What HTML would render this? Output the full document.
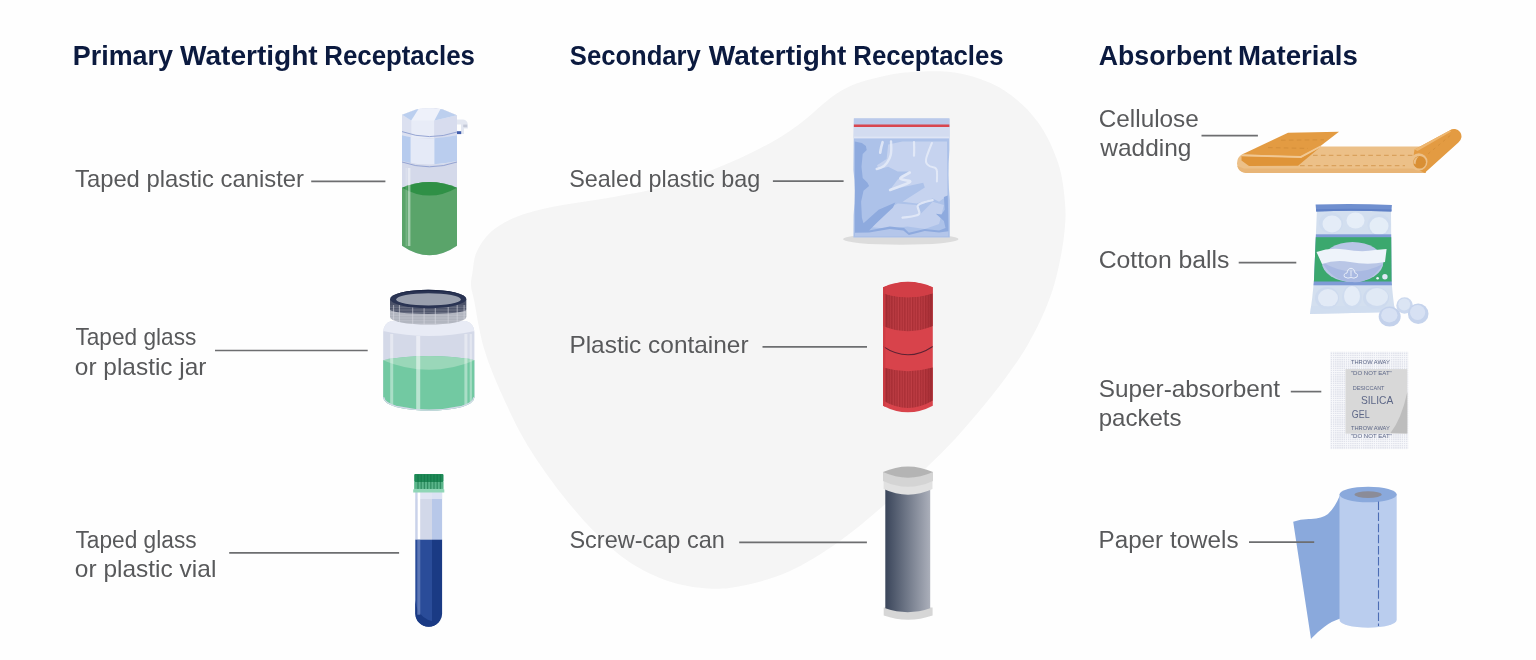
<!DOCTYPE html>
<html><head><meta charset="utf-8"><title>Receptacles</title>
<style>
html,body{margin:0;padding:0}
body{width:1536px;height:660px;overflow:hidden;background:#fefefe}
svg{display:block}
text{font-family:"Liberation Sans",sans-serif}
.h{font-weight:bold;font-size:27.6px;fill:#0b1a3f}
.l{font-size:23.2px;fill:#58595b}
.ln{stroke:#6d6e70;stroke-width:1.7}
</style></head><body>
<svg width="1536" height="660" viewBox="0 0 1536 660">
<rect width="1536" height="660" fill="#fefefe"/>
<path d="M471.0,285.0 C470.8,280.4 471.6,278.2 472.5,272.7 C473.4,267.2 473.5,258.8 476.6,252.0 C479.7,245.2 484.6,237.6 491.0,231.8 C497.4,226.1 504.8,221.6 515.0,217.5 C525.2,213.4 535.6,210.4 552.0,207.0 C568.4,203.6 595.1,200.4 613.6,197.0 C632.1,193.6 645.7,191.6 662.7,186.8 C679.7,182.0 699.4,174.9 715.8,168.4 C732.1,161.9 747.2,155.2 760.8,148.0 C774.4,140.8 784.2,135.0 797.6,125.4 C811.0,115.9 826.9,98.9 841.0,90.7 C855.1,82.5 868.4,79.6 882.0,76.4 C895.6,73.2 909.2,71.8 922.8,71.5 C936.4,71.2 950.1,71.1 963.7,74.3 C977.4,77.5 992.4,82.8 1004.7,90.7 C1017.0,98.6 1028.5,109.5 1037.4,121.4 C1046.3,133.3 1053.3,148.7 1057.9,162.3 C1062.5,175.9 1064.0,190.7 1065.0,203.0 C1066.0,215.3 1065.4,223.8 1064.0,236.0 C1062.6,248.2 1059.5,264.2 1056.4,276.4 C1053.3,288.6 1050.3,297.5 1045.5,309.0 C1040.7,320.5 1034.0,334.0 1027.3,345.5 C1020.6,357.0 1014.0,366.5 1005.5,378.0 C997.0,389.5 987.3,401.8 976.4,414.5 C965.5,427.2 955.1,439.6 940.0,454.5 C924.9,469.4 903.0,489.0 886.0,503.6 C869.0,518.2 854.0,531.1 837.8,542.4 C821.6,553.7 805.2,564.1 789.0,571.4 C772.8,578.7 754.5,583.2 740.8,586.0 C727.1,588.8 719.1,589.2 707.0,588.4 C694.9,587.6 681.0,585.5 668.0,581.0 C655.0,576.5 641.1,569.8 629.0,561.7 C616.9,553.7 606.6,544.0 595.4,532.7 C584.1,521.4 572.8,508.4 561.5,493.9 C550.2,479.3 537.4,461.5 527.6,445.4 C517.9,429.2 510.3,413.1 503.0,397.0 C495.7,380.9 488.8,364.7 484.0,348.5 C479.2,332.3 476.2,310.6 474.0,300.0 C471.8,289.4 471.2,289.6 471.0,285.0Z" fill="#f5f5f5"/>
<g id="text" opacity="0.999">
<text class="h" transform="translate(72.79,64.60) scale(0.9757,1)">Primary</text>
<text class="h" transform="translate(180.00,64.60) scale(1.0170,1)">Watertight</text>
<text class="h" transform="translate(324.26,64.60) scale(0.9359,1)">Receptacles</text>
<text class="h" transform="translate(569.80,64.60) scale(0.9291,1)">Secondary</text>
<text class="h" transform="translate(708.80,64.60) scale(1.0163,1)">Watertight</text>
<text class="h" transform="translate(853.37,64.60) scale(0.9327,1)">Receptacles</text>
<text class="h" transform="translate(1098.77,64.60) scale(0.9675,1)">Absorbent</text>
<text class="h" transform="translate(1238.05,64.60) scale(1.0013,1)">Materials</text>
<text class="l" transform="translate(74.99,186.50) scale(1.0270,1)">Taped plastic canister</text>
<text class="l" transform="translate(75.41,345.40) scale(0.9771,1)">Taped glass</text>
<text class="l" transform="translate(74.85,374.90) scale(1.0534,1)">or plastic jar</text>
<text class="l" transform="translate(75.41,547.50) scale(0.9796,1)">Taped glass</text>
<text class="l" transform="translate(74.84,576.80) scale(1.0555,1)">or plastic vial</text>
<text class="l" transform="translate(569.19,186.70) scale(1.0086,1)">Sealed plastic bag</text>
<text class="l" transform="translate(569.39,352.70) scale(1.0528,1)">Plastic container</text>
<text class="l" transform="translate(569.39,547.90) scale(1.0129,1)">Screw-cap can</text>
<text class="l" transform="translate(1098.79,126.80) scale(1.0484,1)">Cellulose</text>
<text class="l" transform="translate(1100.30,155.60) scale(1.0553,1)">wadding</text>
<text class="l" transform="translate(1098.66,268.20) scale(1.0680,1)">Cotton balls</text>
<text class="l" transform="translate(1098.75,396.70) scale(1.0496,1)">Super-absorbent</text>
<text class="l" transform="translate(1098.64,425.90) scale(1.0374,1)">packets</text>
<text class="l" transform="translate(1098.51,547.80) scale(1.0446,1)">Paper towels</text>
</g>
<!-- 01_canister.svg -->
<g id="canister">
<defs><clipPath id="canClip"><path d="M402,114.7 L416.5,109.3 Q429.5,107.3 442.5,109.3 L457,115.2 L457,245.7 Q429.5,264.7 402,245.7 Z"/></clipPath></defs>
<!-- tab -->
<path d="M456.5,119.5 L463,119.5 Q467.8,120 467.8,125 L467.8,128.5 L464,128.5 L464,134 L461,134 L461,124.5 L456.5,124.5 Z" fill="#e3e7f1"/>
<rect x="463.2" y="124.6" width="4" height="2.6" fill="#c4c9d8"/>
<rect x="456.6" y="131.2" width="4.6" height="2.9" fill="#3f5cab"/>
<g clip-path="url(#canClip)">
<!-- glass -->
<rect x="400" y="100" width="60" height="170" fill="#d4d9ea"/>
<!-- cap side facets -->
<rect x="402" y="108" width="9.2" height="30" fill="#dbe0f0"/>
<rect x="411.2" y="108" width="23.2" height="30" fill="#e8ecf7"/>
<rect x="434.4" y="108" width="23" height="30" fill="#d7dcee"/>
<!-- cap top -->
<path d="M402,114.7 L416.5,109.3 Q429.5,107.3 442.5,109.3 L457,115.2 L434.4,120.6 L411.2,120.6 Z" fill="#eef1fa"/>
<path d="M402,114.7 L416.5,109.3 L418.5,109 L411.2,120.6 Z" fill="#bbcfef"/>
<path d="M440.5,109 L442.5,109.3 L457,115.2 L434.4,120.6 Z" fill="#bccfee"/>
<!-- tape -->
<path d="M402,135.2 Q429.5,141.6 457,135.2 L457,161 Q429.5,168 402,161 Z" fill="#e5eaf7"/>
<path d="M402,135.2 Q406,136.2 410.6,136.9 L410.6,162.9 Q406,162.1 402,161 Z" fill="#b6cbee"/>
<path d="M434.4,138.2 Q446,137.3 457,135.2 L457,161 Q446,163.3 434.4,164.3 Z" fill="#bacdee"/>
<!-- ring lines -->
<path d="M402,131.6 Q429.5,141.4 457,132" fill="none" stroke="#8c9dcf" stroke-width="0.9"/>
<path d="M402,162 Q429.5,171.6 457,162" fill="none" stroke="#8c9dcf" stroke-width="0.9"/>
<!-- liquid -->
<path d="M402,187.7 Q429.5,176.3 457,187.7 L457,270 L402,270 Z" fill="#5aa46a"/>
<path d="M402,187.7 Q429.5,176.3 457,187.7 Q429.5,203.5 402,187.7 Z" fill="#2f9046"/>
<!-- highlights -->
<rect x="407.8" y="168" width="2.6" height="78" fill="#fff" opacity="0.45"/>
<rect x="405.6" y="168" width="1.2" height="78" fill="#fff" opacity="0.2"/>
</g>
</g>
<!-- 02_jar.svg -->
<g id="jar">
<defs><clipPath id="jarClip"><path d="M391,321 L466,321 Q474.4,324 474.4,332 L474.4,397.3 Q474.4,403 462,407 Q429,414.5 396,407 Q383.2,403 383.2,397.3 L383.2,332 Q383.2,324 391,321 Z"/></clipPath>
<pattern id="lidTex" x="0" y="0" width="4" height="1.6" patternUnits="userSpaceOnUse"><rect width="4" height="0.6" fill="#fff" opacity="0.22"/></pattern>
<clipPath id="lidClip"><path d="M390,299 L466.4,299 L466.4,317.1 A38.2,7.5 0 0 1 390,317.1 Z"/></clipPath></defs>
<g clip-path="url(#jarClip)">
<rect x="380" y="315" width="100" height="100" fill="#d4d9e8"/>
<path d="M383,321 L475,321 L475,331 Q429,341 383,331 Z" fill="#e8ebf5"/>
<!-- liquid -->
<path d="M383,360.2 Q429,352 475,360.2 L475,415 L383,415 Z" fill="#72c9a2"/>
<path d="M383,360.2 Q429,352 475,360.2 Q429,379.5 383,360.2 Z" fill="#9ad7b9"/>
<!-- highlights -->
<rect x="390.2" y="334" width="3" height="80" fill="#fff" opacity="0.4"/>
<rect x="416.2" y="336" width="4" height="80" fill="#fff" opacity="0.5"/>
<rect x="464.4" y="334" width="3" height="80" fill="#fff" opacity="0.4"/>
<rect x="469.7" y="334" width="2.2" height="80" fill="#fff" opacity="0.35"/>
<path d="M383.2,397.3 Q383.2,403 396,407 Q429,414.5 462,407 Q474.4,403 474.4,397.3" fill="none" stroke="#d4d9e8" stroke-width="2.5"/>
</g>
<!-- lid -->
<g clip-path="url(#lidClip)">
<rect x="389" y="298" width="79" height="30" fill="#adb1bc"/>
<path d="M390,299 L466.4,299 L466.4,309.7 A38.2,4.2 0 0 1 390,309.7 Z" fill="#4b5269"/>
<rect x="389" y="305" width="79" height="22" fill="url(#lidTex)"/>
<g stroke="#d9dbe2" stroke-width="0.8" opacity="0.75">
<line x1="393.6" y1="305" x2="393.6" y2="330"/><line x1="399.4" y1="305" x2="399.4" y2="330"/><line x1="412.7" y1="305" x2="412.7" y2="330"/><line x1="424.1" y1="305" x2="424.1" y2="330"/><line x1="435.3" y1="305" x2="435.3" y2="330"/><line x1="448.2" y1="305" x2="448.2" y2="330"/><line x1="457.2" y1="305" x2="457.2" y2="330"/><line x1="464.1" y1="305" x2="464.1" y2="330"/>
</g>
</g>
<ellipse cx="428.2" cy="299" rx="38.2" ry="9.3" fill="#2a3453"/>
<path d="M390,299 A38.2,9.3 0 0 1 466.4,299 A38.2,8 0 0 0 390,299 Z" fill="#1c2645"/>
<ellipse cx="428.5" cy="299.4" rx="32.3" ry="6.1" fill="#9aa0ae"/>
</g>
<!-- 03_vial.svg -->
<g id="vial">
<defs><clipPath id="vialClip"><path d="M415.3,490 L442.1,490 L442.1,613.4 A13.4,13.4 0 0 1 415.3,613.4 Z"/></clipPath></defs>
<g clip-path="url(#vialClip)">
<rect x="415" y="490" width="17" height="50" fill="#d2d8e9"/>
<rect x="432" y="490" width="11" height="50" fill="#b8c8e9"/>
<rect x="415" y="490" width="28" height="9" fill="#e3e8f5" opacity="0.8"/>
<rect x="415.3" y="490" width="2.4" height="50" fill="#c9d2ea"/>
<rect x="417.7" y="490" width="2.5" height="50" fill="#ffffff"/>
<rect x="415" y="539.7" width="17" height="90" fill="#2a4c99"/>
<rect x="432" y="539.7" width="11" height="90" fill="#1a3a84"/>
<path d="M415,600 Q418,622 440,622 L443,630 L415,630 Z" fill="#1a3a84"/>
<rect x="417.3" y="539.7" width="3" height="75" fill="#6d86c0" opacity="0.75"/>
</g>
<!-- cap -->
<path d="M414.3,475 Q414.3,473.9 415.5,473.9 L442.2,473.9 Q443.4,473.9 443.4,475 L443.4,488.9 L444.3,489.5 L444.3,492.4 L413.2,492.4 L413.2,489.5 L414.3,488.9 Z" fill="#8fd6b6"/>
<rect x="414.3" y="473.9" width="29.1" height="8.2" rx="1" fill="#1f8a57"/>
<rect x="414.3" y="482" width="29.1" height="6.9" fill="#5ab58a"/>
<g stroke="#0f6e42" stroke-width="1.3" opacity="0.55">
<line x1="418" y1="474.5" x2="418" y2="489"/><line x1="421.2" y1="474.5" x2="421.2" y2="489"/><line x1="424.4" y1="474.5" x2="424.4" y2="489"/><line x1="427.6" y1="474.5" x2="427.6" y2="489"/><line x1="430.8" y1="474.5" x2="430.8" y2="489"/><line x1="434" y1="474.5" x2="434" y2="489"/><line x1="437.2" y1="474.5" x2="437.2" y2="489"/><line x1="440.4" y1="474.5" x2="440.4" y2="489"/>
</g>
</g>
<!-- 04_bag.svg -->
<g id="bag">
<defs><clipPath id="bagClip"><path d="M853.9,118.5 L949.4,118.5 L949.4,150 Q947.5,175 949.8,200 L949.8,237.4 L853.4,237.6 L853.6,215 Q856,190 853.4,170 Z"/></clipPath></defs>
<ellipse cx="900.8" cy="239.2" rx="57.6" ry="5.6" fill="#dcdcdc"/>
<g clip-path="url(#bagClip)">
<rect x="850" y="115" width="104" height="126" fill="#adc2e9"/>
<path d="M902.5,141.4 L947.0,141.4 L947.4,195.5 L939.1,201.8 L932.7,198.6 L916.8,203.4 L902.5,201.8 L924.8,187.5 L923.2,182.7 L889.8,189.9 L897.7,179.5 L908.9,171.6 L897.7,171.6 L888.2,166.8 L878.6,169.2 L877.0,165.2 L886.6,158.9 L888.2,144.5Z" fill="#c6d3ef"/>
<path d="M886.6,209.8 L897.7,203.4 L916.8,205.0 L920.0,214.5 L932.7,201.8 L943.9,205.0 L939.1,224.1 L924.8,228.9 L907.3,226.5 L889.8,228.9 L872.3,227.3Z" fill="#c2d0ee"/>
<path d="M854.8,141.4 L861.9,143.0 L865.9,146.1 L866.7,150.1 L862.7,154.1 L861.5,166.8 L862.7,178.0 L867.5,182.7 L869.1,185.9 L863.5,190.7 L861.1,201.8 L861.9,217.7 L863.5,223.3 L878.6,209.8 L895.3,202.6 L893.0,207.4 L875.5,224.1 L869.1,230.5 L889.8,226.5 L904.1,228.1 L908.9,232.8 L924.8,228.9 L939.1,230.5 L945.5,228.1 L943.9,220.9 L935.9,213.8 L941.5,214.5 L944.7,209.8 L943.9,197.0 L947.8,195.5 L948.6,236.8 L854.8,236.8Z" fill="#8eaade"/>
<path d="M854.8,236.8 L854.8,232.8 L869.1,232.4 L889.8,228.9 L903.3,230.5 L908.9,234.9 L924.8,230.9 L939.1,232.4 L948.6,231.2 L948.6,236.8Z" fill="#b4c6ea"/>
<g fill="none" stroke="#e6ecf8" stroke-linecap="round" stroke-linejoin="round" opacity="0.85">
<path d="M882.6,142.2 Q881.0,147.7 880.6,150.3 L880.2,152.8" stroke-width="2.6"/>
<path d="M891.0,141.4 Q891.7,150.9 890.7,154.9 Q889.8,158.9 887.0,162.8 Q884.2,166.8 880.5,167.9 L876.7,169.0" stroke-width="2.4"/>
<path d="M914.0,142.2 Q914.3,149.3 914.1,152.5 L914.0,155.7" stroke-width="2.2"/>
<path d="M931.9,143.0 Q928.0,152.5 926.5,157.3 Q925.1,162.0 927.3,164.4 Q929.5,166.8 933.1,167.2 Q936.7,167.6 936.9,171.2 Q937.2,174.8 937.0,178.1 L936.9,181.5" stroke-width="2.0"/>
<path d="M909.8,172.5 Q904.1,175.6 901.4,177.2 Q898.7,178.9 902.2,179.6 Q905.7,180.3 909.0,180.9 Q912.4,181.5 906.6,183.7 Q900.9,185.9 895.5,188.0 L890.1,190.0" stroke-width="2.6"/>
<path d="M932.7,200.2 Q924.8,201.8 920.8,203.6 Q916.8,205.3 917.8,207.5 Q918.7,209.8 919.4,212.2 Q920.0,214.5 916.0,215.5 Q912.0,216.5 907.3,217.1 L902.5,217.7" stroke-width="2.2"/>
</g>
<!-- top band -->
<rect x="850" y="115" width="104" height="9.6" fill="#bac9ea"/>
<rect x="850" y="127" width="104" height="10.6" fill="#d3dcf0"/>
<rect x="850" y="136.6" width="104" height="1.8" fill="#dfe5f4"/>
<rect x="850" y="124.5" width="104" height="2.5" fill="#d9464f"/>
</g>
</g>
<!-- 05_container.svg -->
<g id="container">
<defs><clipPath id="conClip"><path d="M883,287.3 Q907.9,276.3 932.8,287.3 L932.8,405.7 Q907.9,418.9 883,405.7 Z"/></clipPath>
<pattern id="ribs" x="883.4" y="0" width="2.6" height="10" patternUnits="userSpaceOnUse"><rect width="2.6" height="10" fill="#aa2f36"/><rect x="1.4" width="1.2" height="10" fill="#bf3e45"/></pattern>
<linearGradient id="ribShade" x1="0" x2="1"><stop offset="0" stop-color="#8f2229" stop-opacity="0.55"/><stop offset="0.14" stop-color="#8f2229" stop-opacity="0.15"/><stop offset="0.3" stop-color="#8f2229" stop-opacity="0"/><stop offset="0.72" stop-color="#8f2229" stop-opacity="0"/><stop offset="0.88" stop-color="#8f2229" stop-opacity="0.2"/><stop offset="1" stop-color="#8f2229" stop-opacity="0.6"/></linearGradient></defs>
<g clip-path="url(#conClip)">
<rect x="880" y="275" width="56" height="145" fill="#d8434b"/>
<!-- upper ribbed -->
<path d="M883,293.2 Q907.9,301.2 932.8,293.2 L932.8,326.1 Q907.9,336.5 883,326.1 Z" fill="url(#ribs)"/>
<path d="M883,293.2 Q907.9,301.2 932.8,293.2 L932.8,326.1 Q907.9,336.5 883,326.1 Z" fill="url(#ribShade)"/>
<!-- top face -->
<path d="M883,287.3 Q907.9,276.3 932.8,287.3 L932.8,293.2 Q907.9,301.2 883,293.2 Z" fill="#d23e46"/>
<!-- lower ribbed -->
<path d="M883,367.6 Q907.9,374.8 932.8,367.6 L932.8,400.6 Q907.9,415.4 883,400.6 Z" fill="url(#ribs)"/>
<path d="M883,367.6 Q907.9,374.8 932.8,367.6 L932.8,400.6 Q907.9,415.4 883,400.6 Z" fill="url(#ribShade)"/>
<!-- seam -->
<path d="M883,346.4 Q908,363.2 932.8,346.4" fill="none" stroke="#5c2233" stroke-width="1.1"/>
<rect x="883" y="287" width="2.3" height="125" fill="#cf3c44" opacity="0.85"/>
</g>
</g>
<!-- 06_can.svg -->
<g id="can">
<defs><linearGradient id="canG" x1="0" x2="1" y1="0" y2="0"><stop offset="0" stop-color="#3a455a"/><stop offset="0.5" stop-color="#727a8a"/><stop offset="1" stop-color="#abafba"/></linearGradient></defs>
<!-- bottom rim -->
<path d="M883.7,607.5 L932.6,607.5 L932.6,615.5 Q908,624 883.7,615.5 Z" fill="#d6d6d6"/>
<!-- body -->
<path d="M885.3,486 L930.2,486 L930.2,608.3 Q907.8,616 885.3,608.3 Z" fill="url(#canG)"/>
<!-- cap lower lip -->
<path d="M883.6,478 L932.5,478 L932.5,489.1 Q908,500.5 883.6,489.1 Z" fill="#e1e1e1"/>
<!-- cap side -->
<path d="M883,472 L933,472 L933,481 Q908,492.5 883,481 Z" fill="#d4d4d4"/>
<!-- cap top -->
<path d="M883,472 Q908,460.8 933,472 Q908,483.4 883,472 Z" fill="#b4b4b4"/>
</g>
<!-- 07_wadding.svg -->
<g id="wadding">
<!-- base sheet -->
<path d="M1318,146.4 L1426,146.4 L1426,173 L1246,173 Q1237,172 1237,163.5 Q1237,157 1242.5,154 Z" fill="#ecc088"/>
<path d="M1244,168.6 L1426,168.6 L1426,173 L1246,173 Q1239,172.4 1237.4,166 Z" fill="#e8b577"/>
<!-- roll tube (diagonal) -->
<path d="M1414.5,149.5 L1449.6,130.4 A7.4,7.4 0 0 1 1458.4,142.5 L1424.6,172.9 L1412,166 Z" fill="#e39b42"/>
<path d="M1414.5,149.5 L1449.6,130.4 L1451.2,131.6 L1417.5,151 Z" fill="#eeb66f"/>
<!-- roll end -->
<circle cx="1418.9" cy="161.8" r="8.6" fill="#ecc088"/>
<circle cx="1419.6" cy="162.3" r="6.3" fill="#d98f34"/>
<path d="M1413.5,163 Q1413.6,157.5 1419,156.5 Q1415.5,158.8 1415.6,164.5 Z" fill="#ecc088"/>
<!-- dashes on base -->
<line x1="1313" y1="155.4" x2="1413" y2="155.4" stroke="#d9a15c" stroke-width="1.1" stroke-dasharray="4.6,3.3"/>
<line x1="1300" y1="165.6" x2="1405" y2="165.6" stroke="#d9a15c" stroke-width="1.1" stroke-dasharray="4.6,3.3"/>
<!-- underside of flap -->
<path d="M1241.5,156 L1301.5,157.6 L1321,146.6 L1298,165.7 L1249,166 L1241.5,160.5 Z" fill="#df9438"/>
<!-- flap top -->
<path d="M1242.5,154.2 L1288,132.8 L1339,131.8 L1320.5,146 L1300.5,156.4 Z" fill="#e39b42"/>
<path d="M1242,154.4 L1300.5,156 L1320.5,145.6 L1321.3,146.9 L1301,157.9 L1241.6,156.2 Z" fill="#f1c893"/>
<line x1="1281" y1="140.2" x2="1324" y2="139.8" stroke="#d48e39" stroke-width="1" stroke-dasharray="4.6,3.3"/>
<line x1="1268" y1="147.6" x2="1308" y2="148.4" stroke="#d48e39" stroke-width="1" stroke-dasharray="4.6,3.3"/>
<line x1="1428" y1="154" x2="1452" y2="134" stroke="#d48e39" stroke-width="0.9" stroke-dasharray="3,3.5"/>
</g>
<!-- 08_cotton.svg -->
<g id="cotton">
<defs><clipPath id="cotClip"><path d="M1317,208 L1391,208 L1391.5,280 Q1393,300 1395.2,312 L1310,314 Q1312.5,298 1314,280 Z"/></clipPath></defs>
<g clip-path="url(#cotClip)">
<rect x="1308" y="205" width="90" height="112" fill="#d3dfef"/>
<!-- cotton balls top -->
<ellipse cx="1331" cy="223" rx="12" ry="10.5" fill="#cfdcef"/>
<ellipse cx="1355" cy="221" rx="11" ry="10" fill="#d3dff0"/>
<ellipse cx="1379" cy="225" rx="11.5" ry="11" fill="#cfdcef"/>
<ellipse cx="1332" cy="224" rx="9.5" ry="8.5" fill="#e4ecf7"/>
<ellipse cx="1355.5" cy="220.5" rx="9" ry="8" fill="#e6eef8"/>
<ellipse cx="1379" cy="226" rx="9.5" ry="9" fill="#e4edf7"/>
<!-- bottom balls -->
<ellipse cx="1327" cy="298" rx="12" ry="11" fill="#cddaee"/>
<ellipse cx="1352" cy="297" rx="10" ry="12" fill="#cfdcef"/>
<ellipse cx="1376" cy="298" rx="13" ry="11" fill="#cddaee"/>
<ellipse cx="1328" cy="298" rx="10" ry="9" fill="#e2eaf6"/>
<ellipse cx="1352" cy="296" rx="8" ry="10" fill="#e4ecf7"/>
<ellipse cx="1377" cy="297" rx="11" ry="9" fill="#e0e9f5"/>
<rect x="1308" y="306" width="90" height="10" fill="#cfdcef" opacity="0.7"/>
<!-- label -->
<rect x="1308" y="234.3" width="90" height="51" fill="#7f9bd6"/>
<rect x="1308" y="237.2" width="90" height="44.3" fill="#3ba86e"/>
<ellipse cx="1352.6" cy="262" rx="30.8" ry="20" fill="#b9c6e6"/>
<path d="M1322,262 Q1352,280 1383,264 Q1370,284 1352.6,282 Q1333,282 1322,262 Z" fill="#a9b9e2"/>
<path d="M1316.5,252 Q1330,247 1345,249.5 Q1362,252.5 1375,250 L1386.6,249 L1385,262 Q1368,265.5 1350,262 Q1335,259.5 1322,264 Z" fill="#eef3fa"/>
<circle cx="1377.6" cy="278.2" r="1.3" fill="#eef3fa"/>
<circle cx="1384.9" cy="276.7" r="2.7" fill="#dfe8f5"/>
<path d="M1344.5,277 Q1343,273.5 1347,273 Q1347.5,268.5 1351,268.3 Q1354.5,268.5 1355,273 Q1358.5,273.5 1357,277 Q1354,279 1351,277.5 Q1348,279 1344.5,277 Z" fill="none" stroke="#eef3fa" stroke-width="0.9"/>
<line x1="1351" y1="270.5" x2="1351" y2="276.5" stroke="#eef3fa" stroke-width="0.9"/>
</g>
<!-- top band -->
<path d="M1315.6,204.6 Q1353,203.2 1391.9,205 L1391.4,211.6 Q1353,210 1316.2,211.4 Z" fill="#6f8fcf"/>
<path d="M1316,209.2 Q1353,208 1391.6,209.4 L1391.4,211.6 Q1353,210 1316.2,211.4 Z" fill="#5f80c6"/>
<!-- loose balls -->
<circle cx="1404.6" cy="305.5" r="8.3" fill="#cbd8ee"/>
<circle cx="1404.2" cy="304.5" r="6" fill="#dbe5f4"/>
<circle cx="1418.2" cy="313.8" r="10.3" fill="#c5d3ec"/>
<circle cx="1417.6" cy="312.5" r="7.6" fill="#d7e1f3"/>
<ellipse cx="1389.7" cy="316.6" rx="11" ry="10" fill="#c3d1eb"/>
<ellipse cx="1389.3" cy="315.2" rx="8.2" ry="7.3" fill="#d7e1f3"/>
</g>
<!-- 09_silica.svg -->
<g id="silica">
<defs><pattern id="grid" x="1330" y="351.8" width="2.15" height="2.15" patternUnits="userSpaceOnUse"><rect width="2.15" height="2.15" fill="#dfe1ea"/><rect width="2.15" height="0.8" fill="#f7f8fb"/><rect width="0.8" height="2.15" fill="#f7f8fb"/></pattern></defs>
<rect x="1330" y="351.8" width="78.2" height="97.3" fill="url(#grid)"/>
<rect x="1345.5" y="369.1" width="61.8" height="64.5" fill="#d8d8d8"/>
<path d="M1407.3,392 L1407.3,433.6 L1390.5,433 Q1401.5,419 1407.3,392 Z" fill="#bdbdbd"/>
<g fill="#5d6787" font-family="Liberation Sans" >
<text font-size="5.4" transform="translate(1350.9,364.2) scale(0.95,1)" textLength="41" lengthAdjust="spacingAndGlyphs">THROW AWAY</text>
<text font-size="5.4" transform="translate(1350.9,374.7) scale(0.95,1)" textLength="43" lengthAdjust="spacingAndGlyphs">"DO NOT EAT"</text>
<text font-size="5.6" x="1352.7" y="389.7" textLength="31.8" lengthAdjust="spacingAndGlyphs">DESICCANT</text>
<text font-size="10.6" x="1360.9" y="403.9" textLength="32.4" lengthAdjust="spacingAndGlyphs">SILICA</text>
<text font-size="10.6" x="1351.8" y="417.5" textLength="17.8" lengthAdjust="spacingAndGlyphs">GEL</text>
<text font-size="5.4" transform="translate(1350.9,429.6) scale(0.95,1)" textLength="41" lengthAdjust="spacingAndGlyphs">THROW AWAY</text>
<text font-size="5.4" transform="translate(1350.9,438.4) scale(0.95,1)" textLength="43" lengthAdjust="spacingAndGlyphs">"DO NOT EAT"</text>
</g>
</g>
<!-- 10_towels.svg -->
<g id="towels">
<!-- sheet -->
<path d="M1293.2,521.8 Q1301,518.6 1311,519 Q1322,518.6 1328,514 Q1335,507.5 1340.3,494.5 L1340.3,618.5 Q1331,621.5 1324.5,626.7 Q1316,633 1311,639 Z" fill="#8aa9dc"/>
<!-- roll body -->
<path d="M1339.5,494.5 L1396.7,494.5 L1396.7,619.9 A28.6,7.8 0 0 1 1339.5,619.9 Z" fill="#bacdee"/>
<!-- top -->
<ellipse cx="1368.1" cy="494.5" rx="28.6" ry="7.8" fill="#8aa9dc"/>
<ellipse cx="1368.1" cy="494.6" rx="13.6" ry="3.3" fill="#8b8c98"/>
<line x1="1378.5" y1="501.5" x2="1378.5" y2="626" stroke="#4c6db4" stroke-width="1.1" stroke-dasharray="8.5,2.6"/>
</g>
<g id="lines">
<line class="ln" x1="311.2" y1="181.4" x2="385.4" y2="181.4"/>
<line class="ln" x1="215.0" y1="350.5" x2="367.7" y2="350.5"/>
<line class="ln" x1="229.2" y1="552.9" x2="399.1" y2="552.9"/>
<line class="ln" x1="772.9" y1="181.2" x2="843.6" y2="181.2"/>
<line class="ln" x1="762.5" y1="346.9" x2="867.0" y2="346.9"/>
<line class="ln" x1="739.2" y1="542.3" x2="866.9" y2="542.3"/>
<line class="ln" x1="1201.5" y1="135.6" x2="1257.9" y2="135.6"/>
<line class="ln" x1="1238.7" y1="262.7" x2="1296.3" y2="262.7"/>
<line class="ln" x1="1290.8" y1="391.6" x2="1321.3" y2="391.6"/>
<line class="ln" x1="1249.0" y1="542.2" x2="1314.2" y2="542.2"/>
</g>
</svg>
</body></html>
